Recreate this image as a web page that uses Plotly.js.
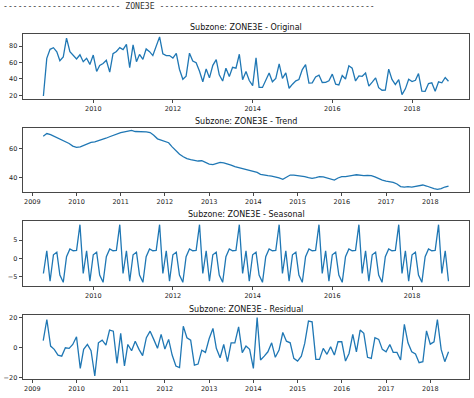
<!DOCTYPE html>
<html><head><meta charset="utf-8">
<script src="https://cdn.plot.ly/plotly-3.0.1.min.js"></script>
<style>html,body{margin:0;padding:0;background:#fff;overflow:hidden}#chart{width:474px;height:398px}</style>
</head><body><div id="chart"></div>
<script>
const zoneName = 'ZONE3E';
const headerText = '------------------------ ZONE3E --------------------------------------------';
const originalStart = '2008-10';
const componentStart = '2009-04';

// Original series, Oct 2008 - Dec 2018
const original = [
  19, 65, 76,
  78, 73, 62, 66.6, 89.6, 73.2, 69.4, 64.3, 69.3, 60.9, 65.1, 57.6,
  69.0, 49.0, 56.4, 58.7, 62.6, 48.2, 70.6, 73.4, 78.0, 75.7, 82.1, 53.6,
  81.5, 60.9, 69.7, 63.8, 76.5, 73.1, 68.4, 80.3, 91.2, 70.6, 68.3, 68.4,
  65.3, 71.2, 51.7, 39.5, 43.3, 71.3, 61.8, 59.6, 49.2, 36.4, 52.1, 41.2,
  56.5, 63.5, 44.9, 37.3, 52.9, 42.8, 54.0, 53.0, 70.0, 39.0, 49.0, 37.9,
  31.7, 65.5, 29.6, 29.5, 39.2, 47.0, 36.4, 40.4, 58.3, 40.5, 47.2, 28.5,
  33.5, 37.5, 39.1, 51.3, 57.3, 34.8, 35.0, 42.3, 44.6, 35.5, 35.6, 37.6,
  45.7, 33.5, 32.6, 44.0, 39.8, 56.0, 53.1, 37.4, 43.5, 43.1, 47.0, 31.1,
  36.0, 41.2, 29.2, 26.1, 26.2, 51.8, 39.3, 33.1, 39.1, 20.7, 27.8, 39.4,
  36.6, 38.2, 46.4, 24.9, 24.8, 34.2, 35.1, 24.9, 36.3, 35.1, 41.6, 37.1
];

// Seasonal component, Oct 2008 - Dec 2018
const seasonal = [
  -4.1, 2.1, -6.2,
  1.0, 1.7, -4.5, -6.5, 0.5, 2.6, 2.1, 2.2, 9.2, -4.1, 2.1, -6.2,
  1.0, 1.7, -4.5, -6.5, 0.5, 2.6, 2.1, 2.2, 9.2, -4.1, 2.1, -6.2,
  1.0, 1.7, -4.5, -6.5, 0.5, 2.6, 2.1, 2.2, 9.2, -4.1, 2.1, -6.2,
  1.0, 1.7, -4.5, -6.5, 0.5, 2.6, 2.1, 2.2, 9.2, -4.1, 2.1, -6.2,
  1.0, 1.7, -4.5, -6.5, 0.5, 2.6, 2.1, 2.2, 9.2, -4.1, 2.1, -6.2,
  1.0, 1.7, -4.5, -6.5, 0.5, 2.6, 2.1, 2.2, 9.2, -4.1, 2.1, -6.2,
  1.0, 1.7, -4.5, -6.5, 0.5, 2.6, 2.1, 2.2, 9.2, -4.1, 2.1, -6.2,
  1.0, 1.7, -4.5, -6.5, 0.5, 2.6, 2.1, 2.2, 9.2, -4.1, 2.1, -6.2,
  1.0, 1.7, -4.5, -6.5, 0.5, 2.6, 2.1, 2.2, 9.2, -4.1, 2.1, -6.2,
  1.0, 1.7, -4.5, -6.5, 0.5, 2.6, 2.1, 2.2, 9.2, -4.1, 2.1, -6.2
];

// Trend component, Apr 2009 - Jun 2018
const trend = [
  68.4, 70.2, 69.5, 68.4, 67.0, 65.7, 65.0, 63.4, 61.6,
  60.7, 61.1, 62.0, 63.0, 64.1, 64.5, 65.2, 66.1, 67.0, 68.0, 68.9, 70.2,
  70.9, 71.4, 72.0, 72.3, 71.6, 71.6, 71.6, 71.4, 70.9, 69.1, 66.6, 65.7,
  65.2, 63.9, 61.1, 58.2, 56.1, 54.3, 53.0, 52.3, 51.6, 51.4, 51.6, 50.5,
  49.3, 48.9, 49.8, 50.5, 50.2, 49.5, 48.6, 47.5, 46.8, 46.4, 45.8, 45.2,
  44.5, 43.6, 42.3, 41.6, 41.4, 41.1, 40.7, 39.8, 38.9, 40.2, 41.8, 41.8,
  41.4, 41.4, 40.7, 40.0, 39.5, 40.0, 40.7, 40.5, 39.8, 38.9, 38.4, 39.8,
  40.7, 40.7, 40.9, 41.6, 42.0, 41.6, 41.4, 41.6, 41.4, 40.5, 39.3, 38.4,
  37.7, 37.3, 36.8, 35.7, 33.9, 33.6, 33.9, 33.6, 34.1, 34.8, 35.0, 34.3,
  33.2, 32.5, 32.0, 32.5, 33.6, 34.3
];

// Residual component, Apr 2009 - Jun 2018
const residual = [
  4.7, 18.9, 1.1, -1.1, -4.9, -5.6, 0.0, -0.4, 2.2,
  7.3, -13.8, -1.1, 2.2, -2.0, -18.9, 3.3, 5.1, 1.8, 11.8, 11.1, -10.4,
  9.6, -12.2, 2.2, -2.0, 4.4, -1.1, -5.3, 6.7, 11.1, 5.6, -0.4, 8.9,
  -0.9, 5.6, -4.9, -12.2, -13.3, 14.4, 6.7, 5.1, -11.6, -10.9, -1.6, -3.1,
  6.2, 12.9, -0.4, -6.7, 2.2, -9.3, 3.3, 3.3, 14.0, -3.3, 1.1, -1.1,
  -13.8, 20.2, -8.2, -5.6, -2.7, 3.3, -6.4, -1.6, 10.2, 4.4, 3.3, -7.1,
  -8.9, -5.6, 2.9, 17.8, 17.3, -7.8, -7.8, -0.4, -4.4, 0.7, -4.9, 4.0,
  4.0, -8.9, -3.8, 8.9, -2.7, 11.8, 9.6, -6.4, -7.1, 6.7, 5.6, -1.1,
  -2.7, 2.2, -3.1, -3.1, -8.2, 15.6, 3.3, -2.7, -4.2, -10.0, -9.3, 11.3,
  2.4, 4.0, 18.9, -1.1, -9.3, -2.7
];

const panelNames = ['Original', 'Trend', 'Seasonal', 'Residual'];

function months(start, n) {
  const [y, m] = start.split('-').map(Number);
  const out = [];
  for (let i = 0; i < n; i++) {
    const t = (m - 1) + i;
    const yy = y + Math.floor(t / 12);
    const mm = (t % 12) + 1;
    out.push(yy + '-' + String(mm).padStart(2, '0') + '-01');
  }
  return out;
}

const xFull = months(originalStart, original.length);
const xComp = months(componentStart, trend.length);

const W = 474, H = 398;
const lineStyle = {color: '#1f77b4', width: 1.3};
const traces = [
  {x: xFull, y: original, xaxis: 'x', yaxis: 'y'},
  {x: xComp, y: trend, xaxis: 'x2', yaxis: 'y2'},
  {x: xFull, y: seasonal, xaxis: 'x3', yaxis: 'y3'},
  {x: xComp, y: residual, xaxis: 'x4', yaxis: 'y4'}
].map(t => Object.assign(t, {type: 'scatter', mode: 'lines', line: lineStyle, hoverinfo: 'skip'}));

const font = 'DejaVu Sans, Arial, sans-serif';
const axBase = {
  showline: true, mirror: true, linecolor: '#333', linewidth: 0.9,
  ticks: 'outside', ticklen: 3.5, tickwidth: 0.9, tickcolor: '#333',
  showgrid: false, zeroline: false,
  tickfont: {family: font, size: 6.5, color: '#222'}
};
const xd = [23 / W, 469 / W];
const panels = [[34, 99], [128, 192], [221, 286], [315, 379]];
const yd = panels.map(p => [1 - p[1] / H, 1 - p[0] / H]);

const wideRange = ['2008-03-28', '2019-06-07'];
const narrowRange = ['2008-10-16', '2018-11-17'];

function xa(range, dtick, anchor) {
  return Object.assign({}, axBase, {type: 'date', domain: xd, range: range, dtick: dtick,
    tick0: '2010-01-01', tickformat: '%Y', anchor: anchor});
}
function ya(range, tickvals, anchor) {
  return Object.assign({}, axBase, {domain: null, range: range, tickvals: tickvals, anchor: anchor});
}

const layout = {
  width: W, height: H,
  margin: {l: 0, r: 0, t: 0, b: 0},
  paper_bgcolor: '#fff', plot_bgcolor: '#fff',
  showlegend: false,
  xaxis: xa(wideRange, 'M24', 'y'),
  xaxis2: xa(narrowRange, 'M12', 'y2'),
  xaxis3: xa(wideRange, 'M24', 'y3'),
  xaxis4: xa(narrowRange, 'M12', 'y4'),
  yaxis: ya([15.4, 94.7], [20, 40, 60, 80], 'x'),
  yaxis2: ya([30.2, 74.0], [40, 60], 'x2'),
  yaxis3: ya([-7.5, 10.2], [-5, 0, 5], 'x3'),
  yaxis4: ya([-20.9, 21.9], [-20, 0, 20], 'x4'),
  annotations: []
};
layout.yaxis.domain = yd[0];
layout.yaxis2.domain = yd[1];
layout.yaxis3.domain = yd[2];
layout.yaxis4.domain = yd[3];

const titleY = [27, 121.7, 215, 309];
panelNames.forEach((n, i) => {
  layout.annotations.push({
    text: 'Subzone: ' + zoneName + ' - ' + n,
    xref: 'paper', yref: 'paper', x: (23 + 469) / 2 / W, y: 1 - titleY[i] / H,
    xanchor: 'center', yanchor: 'middle', showarrow: false,
    font: {family: font, size: 8, color: '#111'}
  });
});
layout.annotations.push({
  text: headerText,
  xref: 'paper', yref: 'paper', x: 1 / W, y: 1 - 6 / H,
  xanchor: 'left', yanchor: 'middle', showarrow: false,
  font: {family: 'DejaVu Sans Mono, monospace', size: 8.15, color: '#333'}
});

Plotly.newPlot('chart', traces, layout, {staticPlot: true, displayModeBar: false});
</script>
</body></html>
